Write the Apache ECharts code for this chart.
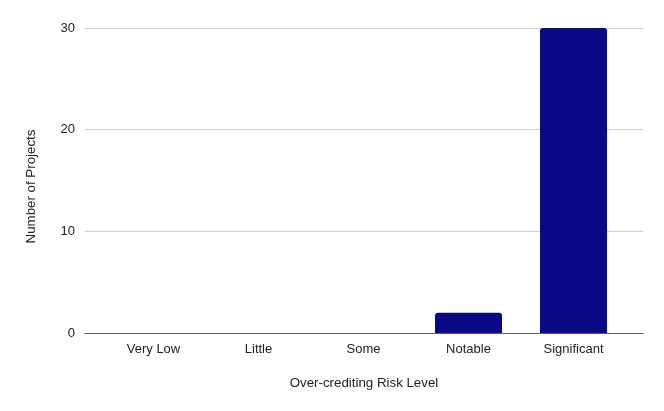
<!DOCTYPE html>
<html><head><meta charset="utf-8">
<script src="https://cdn.jsdelivr.net/npm/echarts@6/dist/echarts.min.js"></script>
<style>html,body{margin:0;padding:0;background:#fff}#c{width:664px;height:411px}</style>
</head><body><div id="c"></div>
<script>
const categories = ["Very Low", "Little", "Some", "Notable", "Significant"];
const projects = [0, 0, 0, 2, 30];
const yTicks = [0, 10, 20, 30];

const font = "'Liberation Sans', Arial, sans-serif";
const chart = echarts.init(document.getElementById('c'), null, {renderer: 'canvas'});
chart.setOption({
  animation: false,
  backgroundColor: '#ffffff',
  grid: [
    {left: 85, right: 21, top: 28, bottom: 78, containLabel: false},
    {left: 101, right: 38, top: 28, bottom: 78, containLabel: false}
  ],
  xAxis: [
    {gridIndex: 0, type: 'category', data: categories, axisLabel: {show: false}, axisTick: {show: false},
     axisLine: {show: true, lineStyle: {color: '#5f5f5f', width: 1}},
     name: 'Over-crediting Risk Level', nameLocation: 'middle', nameGap: 44,
     nameTextStyle: {fontFamily: font, fontSize: 13.3, color: '#222'}},
    {gridIndex: 1, type: 'category', data: categories, axisTick: {show: false}, axisLine: {show: false},
     axisLabel: {fontFamily: font, fontSize: 13, color: '#222', margin: 10}}
  ],
  yAxis: [
    {gridIndex: 0, type: 'value', min: yTicks[0], max: yTicks[yTicks.length-1], interval: 10,
     axisLine: {show: false}, axisTick: {show: false},
     axisLabel: {fontFamily: font, fontSize: 13, color: '#222', margin: 10},
     splitLine: {lineStyle: {color: '#d0d0d0', width: 1}},
     name: 'Number of Projects', nameLocation: 'middle', nameGap: 47,
     nameTextStyle: {fontFamily: font, fontSize: 13.3, color: '#222', padding: [0, 12, 0, 0]}},
    {gridIndex: 1, type: 'value', min: yTicks[0], max: yTicks[yTicks.length-1], interval: 10,
     show: false}
  ],
  series: [{
    type: 'bar', xAxisIndex: 1, yAxisIndex: 1, data: projects,
    barWidth: 67,
    itemStyle: {color: '#090985', borderRadius: [3, 3, 0, 0]}
  }]
});
</script></body></html>
